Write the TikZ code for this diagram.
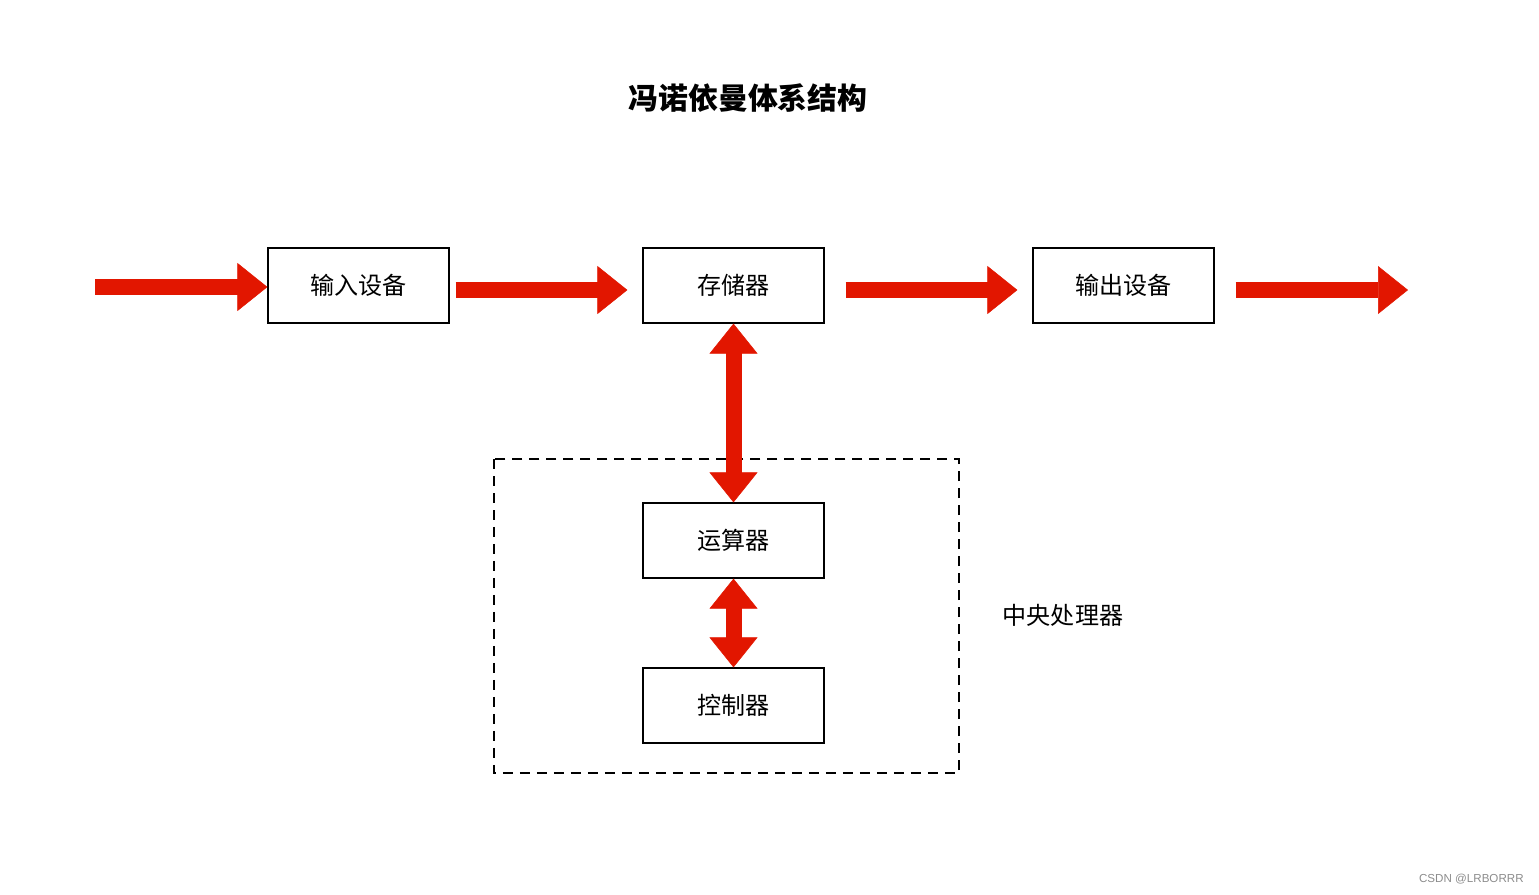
\documentclass[tikz,border=0pt]{standalone}
\usepackage{fontspec}
\setmainfont{Noto Sans CJK SC}
\setsansfont{Liberation Sans}
\usetikzlibrary{arrows.meta}
\definecolor{arrowred}{RGB}{226,22,0}
\begin{document}
\begin{tikzpicture}[x=0.02cm, y=-0.02cm,
    unit/.style={draw, line width=0.7pt, minimum width=3.62cm, minimum height=1.5cm,
      inner sep=0pt, font=\fontsize{13.7}{16}\selectfont},
    flow/.style={draw=arrowred, line width=0.32cm,
      -{Triangle[width=0.96cm, length=0.6cm, fill=arrowred, color=arrowred, line width=0.3pt]}},
    twoway/.style={draw=arrowred, line width=0.32cm,
      {Triangle[width=0.96cm, length=0.6cm, fill=arrowred, color=arrowred, line width=0.3pt]}-{Triangle[width=0.96cm, length=0.6cm, fill=arrowred, color=arrowred, line width=0.3pt]}}]
  \useasboundingbox (0, 0) rectangle (1539, 894);
  % Title
  \node[font=\fontsize{17}{20}\selectfont\bfseries] (title) at (748, 98) {冯诺依曼体系结构};
  % CPU frame
  \draw[line width=0.7pt, dash pattern=on 0.2cm off 0.14cm] (494, 459) rectangle (959, 773);
  \node[font=\fontsize{13.7}{16}\selectfont] (cpu) at (1063, 615) {中央处理器};
  % Units
  \node[unit] (input) at (358.5, 285.5) {输入设备};
  \node[unit] (memory) at (733.5, 285.5) {存储器};
  \node[unit] (output) at (1123.5, 285.5) {输出设备};
  \node[unit] (alu) at (733.5, 540.5) {运算器};
  \node[unit] (ctrl) at (733.5, 705.5) {控制器};
  % Data flow
  \coordinate (src) at (95, 287);
  \coordinate (sink) at (1408, 290);
  \draw[flow] (src) -- (input.west |- src);
  \draw[flow, shorten <=0.12cm, shorten >=0.3cm] ([yshift=-0.09cm]input.east) -- ([yshift=-0.09cm]memory.west);
  \draw[flow, shorten <=0.42cm, shorten >=0.3cm] ([yshift=-0.09cm]memory.east) -- ([yshift=-0.09cm]output.west);
  \draw[flow, shorten <=0.42cm] (output.east |- sink) -- (sink);
  % Memory <-> ALU <-> control
  \draw[twoway] (memory.south) -- (alu.north);
  \draw[twoway] (alu.south) -- (ctrl.north);
  % Watermark
  \node[font=\sffamily\fontsize{6.6}{8}\selectfont, text=black!45, anchor=east, inner sep=0pt] (mark) at (1524, 879) {CSDN @LRBORRR};
\end{tikzpicture}
\end{document}
